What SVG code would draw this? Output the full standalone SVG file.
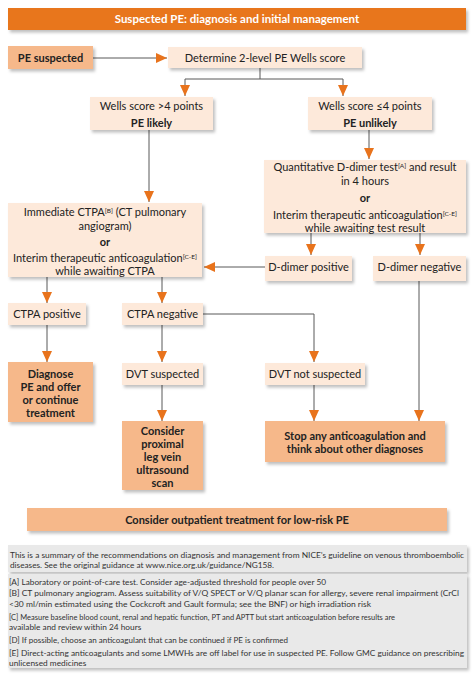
<svg xmlns="http://www.w3.org/2000/svg" width="474" height="678" viewBox="0 0 474 678">
<defs>
<style>
text{font-family:"Lato","Liberation Sans",sans-serif;fill:#222;}
.t{font-size:11px;text-anchor:middle;}
.h{font-size:11.5px;}
.b{font-weight:bold;}
.w{fill:#fff;}
.light{fill:#FDE9DA;}
.dark{fill:#F6B88A;}
.note{fill:#E9E9E9;}
.fn{font-size:8.3px;fill:#333;}
.conn path{fill:none;stroke:#595959;stroke-width:1;}
.sup{font-size:6.5px;}
</style>
<filter id="sh" x="-10%" y="-10%" width="130%" height="140%">
<feDropShadow dx="2" dy="2.5" stdDeviation="1.5" flood-color="#000" flood-opacity="0.25"/>
</filter>
<marker id="ah" markerUnits="userSpaceOnUse" markerWidth="12" markerHeight="10" refX="11" refY="5" orient="auto">
<path d="M0,0 L11,5 L0,10 Z" fill="#E8731C"/>
</marker>
</defs>
<rect width="474" height="678" fill="#fff"/>

<g id="title">
<rect x="8" y="8" width="458" height="22" fill="#E8761E" filter="url(#sh)"/>
<text class="t h b w" x="237" y="23">Suspected PE: diagnosis and initial management</text>
</g>

<g class="conn">
<path d="M93,58 H167" marker-end="url(#ah)"/>
<path d="M260,68 V79 H185 V96" marker-end="url(#ah)"/>
<path d="M260,79 H343 V96" marker-end="url(#ah)"/>
<path d="M149,130 V202" marker-end="url(#ah)"/>
<path d="M369,130 V159" marker-end="url(#ah)"/>
<path d="M311,233 V255" marker-end="url(#ah)"/>
<path d="M420,233 V255" marker-end="url(#ah)"/>
<path d="M265,267 H204" marker-end="url(#ah)"/>
<path d="M47,277 V303" marker-end="url(#ah)"/>
<path d="M162,277 V303" marker-end="url(#ah)"/>
<path d="M203,314 H314 V362" marker-end="url(#ah)"/>
<path d="M47,325 V362" marker-end="url(#ah)"/>
<path d="M162,325 V362" marker-end="url(#ah)"/>
<path d="M162,385 V421" marker-end="url(#ah)"/>
<path d="M314,385 V421" marker-end="url(#ah)"/>
<path d="M419,281 V421" marker-end="url(#ah)"/>
</g>

<g id="pe-suspected">
<rect class="dark" x="8" y="46" width="85" height="23" filter="url(#sh)"/>
<text class="t b" x="50.5" y="61.5">PE suspected</text>
</g>
<g id="determine">
<rect class="light" x="168" y="47" width="194" height="21" filter="url(#sh)"/>
<text class="t" x="265" y="61.5">Determine 2-level PE Wells score</text>
</g>
<g id="wells-high">
<rect class="light" x="90" y="97" width="123" height="33" filter="url(#sh)"/>
<text class="t" x="151.5" y="110">Wells score &gt;4 points</text>
<text class="t b" x="151.5" y="127">PE likely</text>
</g>
<g id="wells-low">
<rect class="light" x="308" y="97" width="124" height="33" filter="url(#sh)"/>
<text class="t" x="370" y="110">Wells score ≤4 points</text>
<text class="t b" x="370" y="127">PE unlikely</text>
</g>
<g id="ddimer-test">
<rect class="light" x="264" y="160" width="202" height="73" filter="url(#sh)"/>
<text class="t" x="365" y="171">Quantitative D-dimer test<tspan class="sup" dy="-3.5">[A]</tspan><tspan dy="3.5"> and result</tspan></text>
<text class="t" x="365" y="185">in 4 hours</text>
<text class="t b" x="365" y="202">or</text>
<text class="t" x="365" y="219">Interim therapeutic anticoagulation<tspan class="sup" dy="-3.5">[C-E]</tspan></text>
<text class="t" x="365" y="232">while awaiting test result</text>
</g>
<g id="immediate-ctpa">
<rect class="light" x="8" y="203" width="194" height="74" filter="url(#sh)"/>
<text class="t" x="105" y="216">Immediate CTPA<tspan class="sup" dy="-3.5">[B]</tspan><tspan dy="3.5"> (CT pulmonary</tspan></text>
<text class="t" x="105" y="230">angiogram)</text>
<text class="t b" x="105" y="246">or</text>
<text class="t" x="105" y="262">Interim therapeutic anticoagulation<tspan class="sup" dy="-3.5">[C-E]</tspan></text>
<text class="t" x="105" y="275">while awaiting CTPA</text>
</g>
<g id="ddimer-positive">
<rect class="light" x="265" y="256" width="87" height="25" filter="url(#sh)"/>
<text class="t" x="308.5" y="271">D-dimer positive</text>
</g>
<g id="ddimer-negative">
<rect class="light" x="373" y="256" width="93" height="25" filter="url(#sh)"/>
<text class="t" x="419.5" y="271">D-dimer negative</text>
</g>
<g id="ctpa-positive">
<rect class="light" x="8" y="303" width="78" height="22" filter="url(#sh)"/>
<text class="t" x="47" y="318">CTPA positive</text>
</g>
<g id="ctpa-negative">
<rect class="light" x="122" y="303" width="81" height="22" filter="url(#sh)"/>
<text class="t" x="162.5" y="318">CTPA negative</text>
</g>
<g id="diagnose">
<rect class="dark" x="8" y="362" width="85" height="60" filter="url(#sh)"/>
<text class="t b" x="50.5" y="377.5">Diagnose</text>
<text class="t b" x="50.5" y="390.5">PE and offer</text>
<text class="t b" x="50.5" y="403.5">or continue</text>
<text class="t b" x="50.5" y="416.5">treatment</text>
</g>
<g id="dvt-suspected">
<rect class="light" x="122" y="363" width="81" height="22" filter="url(#sh)"/>
<text class="t" x="162.5" y="378">DVT suspected</text>
</g>
<g id="dvt-not-suspected">
<rect class="light" x="265" y="363" width="100" height="22" filter="url(#sh)"/>
<text class="t" x="315" y="378">DVT not suspected</text>
</g>
<g id="ultrasound">
<rect class="dark" x="122" y="421" width="81" height="69" filter="url(#sh)"/>
<text class="t b" x="162.5" y="434.5">Consider</text>
<text class="t b" x="162.5" y="447.5">proximal</text>
<text class="t b" x="162.5" y="460.5">leg vein</text>
<text class="t b" x="162.5" y="473.5">ultrasound</text>
<text class="t b" x="162.5" y="486.5">scan</text>
</g>
<g id="stop">
<rect class="dark" x="265" y="421" width="180" height="41" filter="url(#sh)"/>
<text class="t b" x="355" y="439.5">Stop any anticoagulation and</text>
<text class="t b" x="355" y="452.5">think about other diagnoses</text>
</g>
<g id="outpatient">
<rect class="dark" x="27" y="508" width="420" height="23" filter="url(#sh)"/>
<text class="t b" x="237" y="523.5">Consider outpatient treatment for low-risk PE</text>
</g>

<g id="summary">
<rect class="note" x="8" y="545" width="459" height="27" filter="url(#sh)"/>
<text class="fn" x="10" y="557.5" textLength="454" lengthAdjust="spacingAndGlyphs">This is a summary of the recommendations on diagnosis and management from NICE’s guideline on venous thromboembolic</text>
<text class="fn" x="10" y="567.5" textLength="264" lengthAdjust="spacingAndGlyphs">diseases. See the original guidance at www.nice.org.uk/guidance/NG158.</text>
</g>
<g id="footnotes">
<rect class="note" x="8" y="574" width="459" height="94" filter="url(#sh)"/>
<text class="fn" x="9" y="584.5" textLength="317" lengthAdjust="spacingAndGlyphs">[A] Laboratory or point-of-care test. Consider age-adjusted threshold for people over 50</text>
<text class="fn" x="9" y="596" textLength="450" lengthAdjust="spacingAndGlyphs">[B] CT pulmonary angiogram. Assess suitability of V/Q SPECT or V/Q planar scan for allergy, severe renal impairment (CrCl</text>
<text class="fn" x="9" y="607" textLength="362" lengthAdjust="spacingAndGlyphs">&lt;30 ml/min estimated using the Cockcroft and Gault formula; see the BNF) or high irradiation risk</text>
<text class="fn" x="9" y="619.5" textLength="386" lengthAdjust="spacingAndGlyphs">[C] Measure baseline blood count, renal and hepatic function, PT and APTT but start anticoagulation before results are</text>
<text class="fn" x="9" y="630">available and review within 24 hours</text>
<text class="fn" x="9" y="642.5" textLength="279" lengthAdjust="spacingAndGlyphs">[D] If possible, choose an anticoagulant that can be continued if PE is confirmed</text>
<text class="fn" x="9" y="655.5" textLength="455" lengthAdjust="spacingAndGlyphs">[E] Direct-acting anticoagulants and some LMWHs are off label for use in suspected PE. Follow GMC guidance on prescribing</text>
<text class="fn" x="9" y="666">unlicensed medicines</text>
</g>
</svg>
